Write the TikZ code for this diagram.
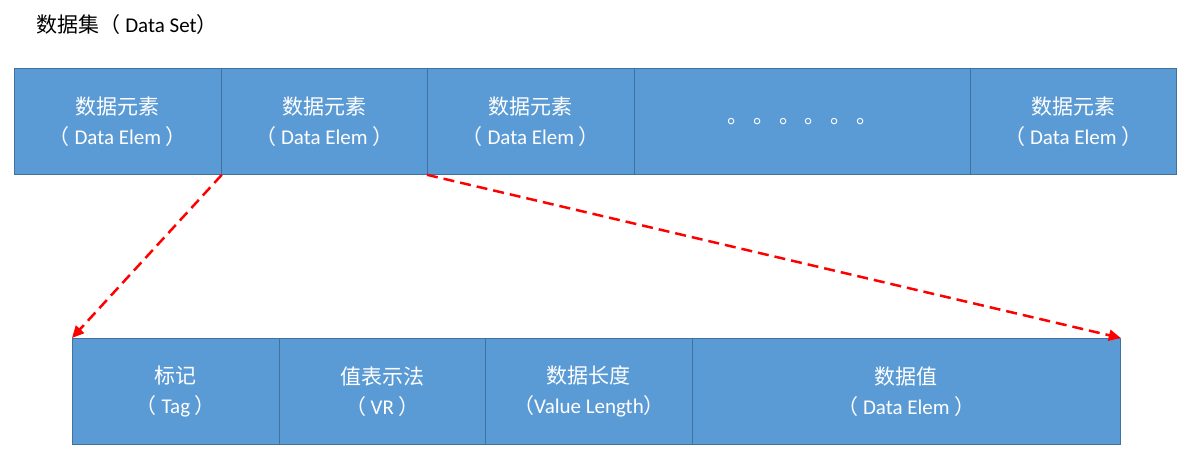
\documentclass[tikz,border=0pt]{standalone}
\usepackage{fontspec}
\setmainfont{Carlito}
\newfontfamily\cjk{Noto Sans CJK SC}
\usetikzlibrary{arrows.meta}
\definecolor{boxfill}{HTML}{5B9BD5}
\definecolor{boxline}{HTML}{41719C}
\tikzset{
  cell/.style={draw=boxline, fill=boxfill, text=white, minimum height=106pt, inner sep=0pt, anchor=north west, align=center, font=\fontsize{21pt}{30pt}\selectfont, line width=0.8pt},
  link/.style={red, dashed, line width=2.5pt, dash pattern=on 11pt off 6pt, -{Triangle[length=12pt,width=11pt]}}
}
\begin{document}
\begin{tikzpicture}[x=1pt,y=-1pt]
\useasboundingbox (0,0) rectangle (1190,464);
\node[anchor=west, font=\fontsize{21pt}{26pt}\selectfont] (title) at (33,25) {{\cjk 数据集（} Data Set{\cjk ）}};
\node[cell, minimum width=207pt] (t1) at (14,68) {{\cjk 数据元素}\\{\cjk （} Data Elem {\cjk ）}};
\node[cell, minimum width=206pt] (t2) at (221,68) {{\cjk 数据元素}\\{\cjk （} Data Elem {\cjk ）}};
\node[cell, minimum width=207pt] (t3) at (427,68) {{\cjk 数据元素}\\{\cjk （} Data Elem {\cjk ）}};
\node[cell, minimum width=336pt] (t4) at (634,68) {{\cjk 。 。 。 。 。 。}};
\node[cell, minimum width=206pt] (t5) at (970,68) {{\cjk 数据元素}\\{\cjk （} Data Elem {\cjk ）}};
\node[cell, minimum width=207pt] (b1) at (72,338) {{\cjk 标记}\\{\cjk （} Tag {\cjk ）}};
\node[cell, minimum width=206pt] (b2) at (279,338) {{\cjk 值表示法}\\{\cjk （} VR {\cjk ）}};
\node[cell, minimum width=207pt] (b3) at (485,338) {{\cjk 数据长度}\\{\cjk （}Value Length{\cjk ）}};
\node[cell, minimum width=428pt] (b4) at (692,338) {{\cjk 数据值}\\{\cjk （} Data Elem {\cjk ）}};
\draw[link] (t1.south east) -- (b1.north west);
\draw[link] (t3.south west) -- (b4.north east);
\end{tikzpicture}
\end{document}
